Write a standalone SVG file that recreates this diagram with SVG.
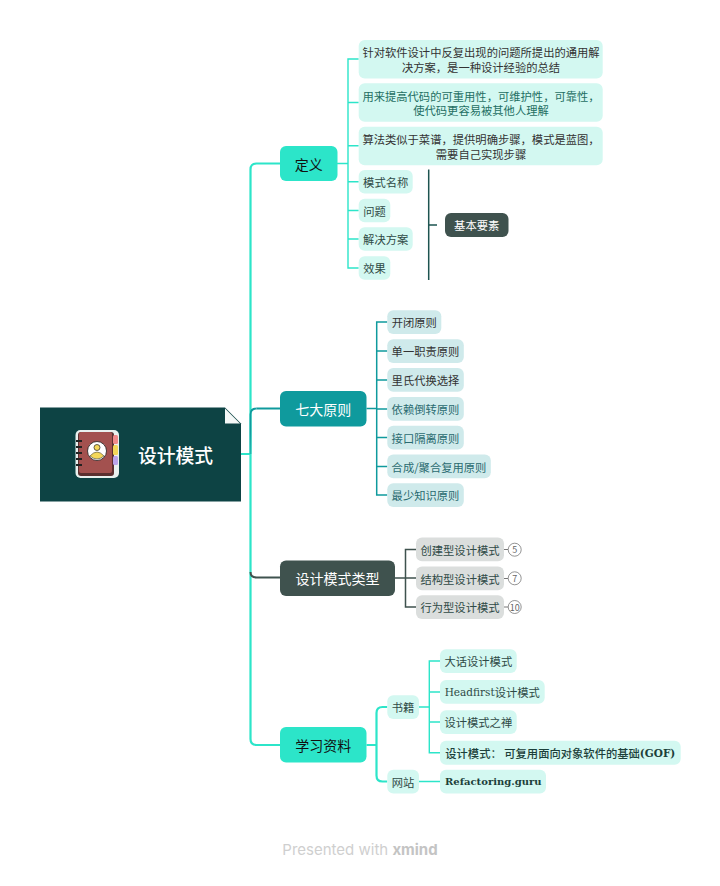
<svg xmlns="http://www.w3.org/2000/svg" width="720" height="886" viewBox="0 0 720 886">
<defs>
<linearGradient id="g7" gradientUnits="userSpaceOnUse" x1="250" y1="454" x2="250" y2="408"><stop offset="0" stop-color="#1fb9b0"/><stop offset=".5" stop-color="#0f9a9d"/></linearGradient>
</defs>
<style>
text{font-family:"Noto Sans CJK SC","Noto Sans",sans-serif;font-size:11.3px;fill:#2f4a46;text-anchor:middle;dominant-baseline:central}
.dk{fill:#333}.tl{fill:#1f6f63}.t7{fill:#2a6a70}
.m{font-size:14px;fill:#111}.w{fill:#fff}
.s{font-family:"DejaVu Serif",serif;font-size:10.5px}
.a{fill:#d3f8f1}.b{fill:#cfeaeb}.g{fill:#dbdedd}
.ln{fill:none}
.c1{stroke:#2ce5c9;stroke-width:2.2}.c1t{stroke:#2ce5c9;stroke-width:1.4}
.c2{stroke:#0f9a9d;stroke-width:1.5}.c3{stroke:#3f524e;stroke-width:1.5}
</style>
<rect width="720" height="886" fill="#fff"/>
<g id="connectors">
<path class="ln c1" d="M241 454H250.500M280 163.500H256.500Q250.500 163.500 250.500 169.500V739Q250.500 745 256.500 745H280"/>
<path class="ln" d="M250.500 454V414.500Q250.500 408.500 256.500 408.500" stroke="url(#g7)" stroke-width="1.800"/>
<path class="ln" d="M256.500 408.500H280" stroke="#0f9a9d" stroke-width="2"/>
<path class="ln" d="M250.500 572Q250.500 577.500 256.500 577.500H280" stroke="#3f524e" stroke-width="2"/>
<path class="ln c1t" d="M337 163.500H348M358.700 59H348V268H358.700M348 102.500H358.700M348 145.800H358.700M348 181.700H358.700M348 210.500H358.700M348 239H358.700"/>
<path class="ln" d="M428.700 169.500V280M428.700 225H437" stroke="#1d5450" stroke-width="1.500"/>
<path class="ln c2" d="M366.500 408.500H376.700M387.300 322H376.700V495H387.300M376.700 351H387.300M376.700 380H387.300M376.700 409H387.300M376.700 437.500H387.300M376.700 466.500H387.300"/>
<path class="ln c3" d="M395 578H416M416 549.500H405.500V607H416"/>
<path class="ln" d="M504 549.500H508M504 578.500H508M504 607H508" stroke="#777" stroke-width="1"/>
<path class="ln c1" d="M366.500 745H376.500M387.300 707H382.500Q376.500 707 376.500 713V775.500Q376.500 781.500 382.500 781.500H387.300"/>
<path class="ln c1t" d="M419 707H429.300M440 661H429.300V752.700H440M429.300 692H440M429.300 722H440M419 781.500H440"/>
</g>
<g id="root">
<path d="M40 407.500H225L241 423.500V501.500H40Z" fill="#0d4344"/>
<path d="M225 408.500L240 423.500H225Z" fill="#f4f8f7"/>
<g id="icon">
<rect x="75.500" y="430" width="43.500" height="48" rx="5" fill="#e9f1ef"/>
<rect x="78" y="432" width="36" height="44" rx="3" fill="#5b2f2f"/>
<rect x="79" y="432" width="33" height="41" rx="2" fill="#a3514f"/>
<rect x="113" y="435" width="5" height="9" rx="1.500" fill="#f08a8a"/>
<rect x="113" y="445" width="5" height="10" rx="1.500" fill="#f3d75a"/>
<rect x="113" y="456" width="5" height="9" rx="1.500" fill="#bba4ea"/>
<path class="ln" d="M76 441H82M76 447H82M76 453H82M76 459H82M76 465H82" stroke="#222" stroke-width="2"/>
<circle cx="97" cy="451" r="9.500" fill="#fff" stroke="#222" stroke-width=".8"/>
<circle cx="97" cy="447.500" r="3" fill="#f3d75a" stroke="#222" stroke-width=".7"/>
<path d="M90 456Q97 448 104 456Q97 462 90 456Z" fill="#f3d75a" stroke="#222" stroke-width=".5"/>
</g>
<text x="175.500" y="454" class="w" style="font-size:18.800px;font-weight:500">设计模式</text>
</g>
<g id="n-def"><rect x="280" y="146" width="57.500" height="35" rx="6" fill="#2ce5c9"/><text x="308.700" y="163.500" class="m">定义</text></g>
<g id="n-d1"><rect class="a" x="358.700" y="40" width="244" height="38.500" rx="6"/><text x="481" y="52" class="dk">针对软件设计中反复出现的问题所提出的通用解</text><text x="481" y="67" class="dk">决方案，是一种设计经验的总结</text></g>
<g id="n-d2"><rect class="a" x="358.700" y="83.300" width="244" height="38.500" rx="6"/><text x="481" y="95.500" class="tl">用来提高代码的可重用性，可维护性，可靠性，</text><text x="481" y="110" class="tl">使代码更容易被其他人理解</text></g>
<g id="n-d3"><rect class="a" x="358.700" y="126.700" width="244" height="38.500" rx="6"/><text x="481" y="139" class="dk">算法类似于菜谱，提供明确步骤，模式是蓝图，</text><text x="481" y="153.500" class="dk">需要自己实现步骤</text></g>
<g id="n-d4"><rect class="a" x="358.700" y="170" width="54" height="23.500" rx="6"/><text x="385.700" y="181.700">模式名称</text></g>
<g id="n-d5"><rect class="a" x="358.700" y="198.800" width="31.600" height="23.500" rx="6"/><text x="374.500" y="210.500">问题</text></g>
<g id="n-d6"><rect class="a" x="358.700" y="227.300" width="54" height="23.500" rx="6"/><text x="385.700" y="239">解决方案</text></g>
<g id="n-d7"><rect class="a" x="358.700" y="256.300" width="31.600" height="23.500" rx="6"/><text x="374.500" y="268">效果</text></g>
<g id="n-sum"><rect x="445" y="213" width="63.500" height="24" rx="6" fill="#3f524e"/><text x="476.700" y="225" class="w">基本要素</text></g>
<g id="n-seven"><rect x="280" y="391" width="86.500" height="35.500" rx="6" fill="#0f9a9d"/><text x="323.200" y="408.500" class="m" style="fill:#fff">七大原则</text></g>
<g id="n-s1"><rect class="b" x="387.300" y="310.300" width="54" height="23.700" rx="6"/><text x="414.300" y="322" class="dk">开闭原则</text></g>
<g id="n-s2"><rect class="b" x="387.300" y="339.300" width="76.500" height="23.700" rx="6"/><text x="425.500" y="351" class="dk">单一职责原则</text></g>
<g id="n-s3"><rect class="b" x="387.300" y="368" width="76.500" height="23.700" rx="6"/><text x="425.500" y="380" class="dk">里氏代换选择</text></g>
<g id="n-s4"><rect class="b" x="387.300" y="397" width="76.500" height="23.700" rx="6"/><text x="425.500" y="409" class="t7">依赖倒转原则</text></g>
<g id="n-s5"><rect class="b" x="387.300" y="425.700" width="76.500" height="23.700" rx="6"/><text x="425.500" y="437.500" class="t7">接口隔离原则</text></g>
<g id="n-s6"><rect class="b" x="387.300" y="454.500" width="103.500" height="23.700" rx="6"/><text x="439" y="466.500" class="t7">合成/聚合复用原则</text></g>
<g id="n-s7"><rect class="b" x="387.300" y="483.300" width="76.500" height="23.700" rx="6"/><text x="425.500" y="495" class="t7">最少知识原则</text></g>
<g id="n-type"><rect x="280" y="560.500" width="115" height="35.500" rx="6" fill="#3f524e"/><text x="337.500" y="578" class="m" style="fill:#fff">设计模式类型</text></g>
<g id="n-t1"><rect class="g" x="416" y="537.500" width="88" height="23.700" rx="6"/><text x="460" y="549.500">创建型设计模式</text><circle cx="514.700" cy="549.700" r="6.500" fill="#fff" stroke="#777" stroke-width=".8"/><text x="514.700" y="549.700" style="font-size:9px;fill:#666">5</text></g>
<g id="n-t2"><rect class="g" x="416" y="566.500" width="88" height="23.700" rx="6"/><text x="460" y="578.500">结构型设计模式</text><circle cx="514.700" cy="578.300" r="6.500" fill="#fff" stroke="#777" stroke-width=".8"/><text x="514.700" y="578.300" style="font-size:9px;fill:#666">7</text></g>
<g id="n-t3"><rect class="g" x="416" y="595.300" width="88" height="23.700" rx="6"/><text x="460" y="607">行为型设计模式</text><circle cx="514.700" cy="607" r="6.500" fill="#fff" stroke="#777" stroke-width=".8"/><text x="514.700" y="607" style="font-size:9px;fill:#666">10</text></g>
<g id="n-learn"><rect x="280" y="727" width="86.500" height="35.500" rx="6" fill="#2ce5c9"/><text x="323.200" y="745" class="m">学习资料</text></g>
<g id="n-l1"><rect class="a" x="387.300" y="695.200" width="31.700" height="23.700" rx="6"/><text x="403" y="707">书籍</text></g>
<g id="n-l2"><rect class="a" x="387.300" y="769.700" width="31.700" height="23.700" rx="6"/><text x="403" y="781.500">网站</text></g>
<g id="n-b1"><rect class="a" x="440" y="649.300" width="76.700" height="23.700" rx="6"/><text x="478.300" y="661">大话设计模式</text></g>
<g id="n-b2"><rect class="a" x="440" y="680" width="104.700" height="23.700" rx="6"/><text x="492.300" y="692"><tspan class="s">Headfirst</tspan>设计模式</text></g>
<g id="n-b3"><rect class="a" x="440" y="710.300" width="76.700" height="23.700" rx="6"/><text x="478.300" y="722">设计模式之禅</text></g>
<g id="n-b4"><rect class="a" x="440" y="740.700" width="240.700" height="24" rx="6"/><text x="560.300" y="752.700" style="font-weight:500;fill:#1c3f3a">设计模式： 可复用面向对象软件的基础<tspan class="s" style="font-weight:700">(GOF)</tspan></text></g>
<g id="n-b5"><rect class="a" x="440" y="769.700" width="106" height="23.700" rx="6"/><text x="493.300" y="781.500" class="s" style="font-weight:700;fill:#1c3f3a;font-size:10px">Refactoring.guru</text></g>
<g id="watermark"><text x="360" y="849" style="font-family:'Inter','Noto Sans',sans-serif;font-size:15px;fill:#cfcfcf">Presented with <tspan style="font-weight:700;fill:#c4c4c4">xmind</tspan></text></g>
</svg>
